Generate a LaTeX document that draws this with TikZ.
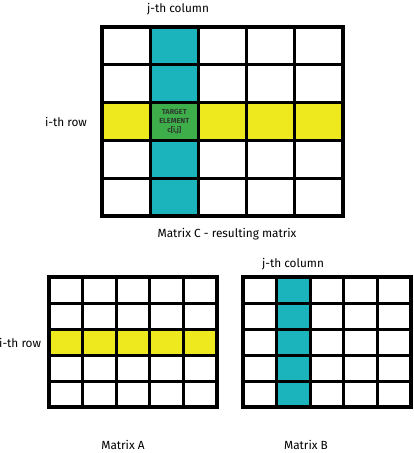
\documentclass[tikz,border=0pt]{standalone}
\usepackage{fontspec}
\setmainfont{Fira Sans}
\definecolor{colteal}{HTML}{1BB3BC}
\definecolor{rowyellow}{HTML}{EEE81E}
\definecolor{targetgreen}{HTML}{3DAE4A}
\definecolor{targettext}{HTML}{2E3A2E}

\begin{document}
\begin{tikzpicture}[x=1pt, y=-1pt,
	lbl/.style={font=\fontsize{11.8}{14}\selectfont},
	gridline/.style={line width=3pt},
	frameline/.style={line width=3.5pt}]
	\useasboundingbox (0,0) rectangle (414,453);
	% matrix C
	\begin{scope}[shift={(102,27)}, x=48.2pt, y=-37.8pt]
		\fill[colteal] (1,0) rectangle (2,5);
		\fill[rowyellow] (0,2) rectangle (5,3);
		\fill[targetgreen] (1,2) rectangle (2,3);
		\foreach \k in {1,...,4} {
			\draw[gridline] (\k,0) -- (\k,5);
			\draw[gridline] (0,\k) -- (5,\k);
		}
		\draw[frameline] (0,0) rectangle (5,5);
		\node[text=targettext, font=\fontsize{7.3}{9}\selectfont\bfseries, align=center] (target) at (1.5,2.5) {TARGET\\ELEMENT\\c[i,j]};
	\end{scope}
	% matrix A
	\begin{scope}[shift={(49,277)}, x=33.6pt, y=-26pt]
		\fill[rowyellow] (0,2) rectangle (5,3);
		\foreach \k in {1,...,4} {
			\draw[gridline] (\k,0) -- (\k,5);
			\draw[gridline] (0,\k) -- (5,\k);
		}
		\draw[frameline] (0,0) rectangle (5,5);
	\end{scope}
	% matrix B
	\begin{scope}[shift={(243,277)}, x=33.6pt, y=-26pt]
		\fill[colteal] (1,0) rectangle (2,5);
		\foreach \k in {1,...,4} {
			\draw[gridline] (\k,0) -- (\k,5);
			\draw[gridline] (0,\k) -- (5,\k);
		}
		\draw[frameline] (0,0) rectangle (5,5);
	\end{scope}
	\node[lbl] (jcolC) at (178,9) {j-th column};
	\node[lbl] (irowC) at (66,122) {i-th row};
	\node[lbl] (capC) at (227,234) {Matrix C - resulting matrix};
	\node[lbl, anchor=west, inner sep=0pt] (irowA) at (-1,343) {i-th row};
	\node[lbl] (jcolB) at (293,264) {j-th column};
	\node[lbl] (capA) at (123,445) {Matrix A};
	\node[lbl] (capB) at (306,445) {Matrix B};
\end{tikzpicture}
\end{document}
